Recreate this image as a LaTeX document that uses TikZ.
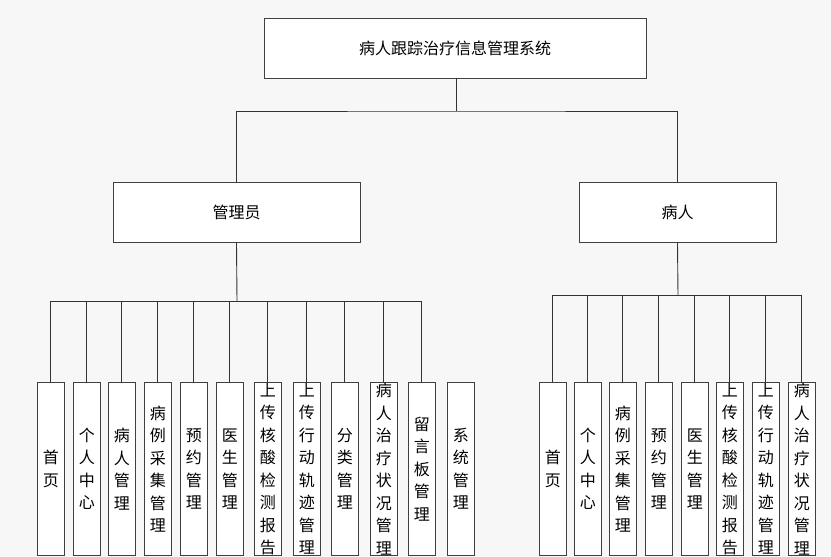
\documentclass[tikz,border=0pt]{standalone}
\usepackage{fontspec}
\setmainfont{Noto Sans CJK SC}
\begin{document}
\begin{tikzpicture}[x=1pt,y=-1pt,
  box/.style={draw=black!75,line width=0.8pt,fill=white,inner sep=0pt},
  ln/.style={draw=black!80,line width=0.9pt},
  leaf/.style={box,minimum width=27pt,minimum height=173pt,font=\fontsize{16}{22.5}\selectfont,align=center,anchor=north west}]
\fill[black!3] (0,0) rectangle (831,557);
\useasboundingbox (0,0) rectangle (831,557);
\node[box,minimum width=382pt,minimum height=60pt,font=\fontsize{16}{18}\selectfont] (root) at (455,48) {病人跟踪治疗信息管理系统};
\node[box,minimum width=247pt,minimum height=60pt,font=\fontsize{16}{18}\selectfont] (adm) at (236.5,212) {管理员};
\node[box,minimum width=197pt,minimum height=60pt,font=\fontsize{16}{18}\selectfont] (pat) at (677.5,212) {病人};
\coordinate (j) at (456,111);
\draw[ln] (root.south -| j) -- (j);
\draw[ln] (adm.north) |- (j) -| (pat.north);
\foreach \n/\x/\t in {a1/37/首\\页, a2/73/个\\人\\中\\心, a3/108/病\\人\\管\\理, a4/144/病\\例\\采\\集\\管\\理, a5/180/预\\约\\管\\理, a6/216/医\\生\\管\\理, a7/254/上\\传\\核\\酸\\检\\测\\报\\告, a8/293/上\\传\\行\\动\\轨\\迹\\管\\理, a9/331/分\\类\\管\\理, a10/370/病\\人\\治\\疗\\状\\况\\管\\理, a11/408/留\\言\\板\\管\\理, a12/447/系\\统\\管\\理}
  {\node[leaf] (\n) at (\x,382) {\t};}
\foreach \n/\x/\t in {p1/539/首\\页, p2/574/个\\人\\中\\心, p3/609/病\\例\\采\\集\\管\\理, p4/645/预\\约\\管\\理, p5/681/医\\生\\管\\理, p6/716/上\\传\\核\\酸\\检\\测\\报\\告, p7/752/上\\传\\行\\动\\轨\\迹\\管\\理, p8/788/病\\人\\治\\疗\\状\\况\\管\\理}
  {\node[leaf] (\n) at (\x,382) {\t};}
\coordinate (ab) at (237,301);
\coordinate (pb) at (678,295);
\draw[ln] (adm.south) -- (ab);
\draw[ln] (pat.south) -- (pb);
\foreach \n in {a1,a2,a3,a4,a5,a6,a7,a8,a9,a10,a11} {\draw[ln] (\n.north) |- (ab);}
\foreach \n in {p1,p2,p3,p4,p5,p6,p7,p8} {\draw[ln] (\n.north) |- (pb);}
\end{tikzpicture}
\end{document}
